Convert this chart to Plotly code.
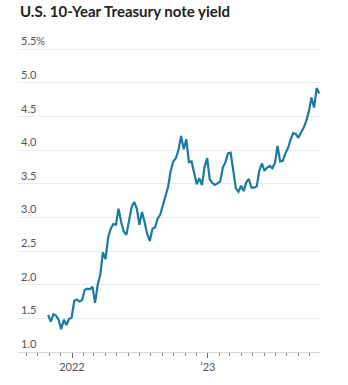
import plotly.graph_objects as go

dates = [
    "2021-10-29", "2021-11-05", "2021-11-12", "2021-11-19", "2021-11-26", "2021-12-03",
    "2021-12-10", "2021-12-17", "2021-12-24", "2021-12-31", "2022-01-07", "2022-01-14",
    "2022-01-21", "2022-01-28", "2022-02-04", "2022-02-11", "2022-02-18", "2022-02-25",
    "2022-03-04", "2022-03-11", "2022-03-18", "2022-03-25", "2022-04-01", "2022-04-08",
    "2022-04-15", "2022-04-22", "2022-04-29", "2022-05-06", "2022-05-13", "2022-05-20",
    "2022-05-27", "2022-06-03", "2022-06-10", "2022-06-17", "2022-06-24", "2022-07-01",
    "2022-07-08", "2022-07-15", "2022-07-22", "2022-07-29", "2022-08-05", "2022-08-12",
    "2022-08-19", "2022-08-26", "2022-09-02", "2022-09-09", "2022-09-16", "2022-09-23",
    "2022-09-30", "2022-10-07", "2022-10-14", "2022-10-21", "2022-10-28", "2022-11-04",
    "2022-11-11", "2022-11-18", "2022-11-25", "2022-12-02", "2022-12-09", "2022-12-16",
    "2022-12-23", "2022-12-30", "2023-01-06", "2023-01-13", "2023-01-20", "2023-01-27",
    "2023-02-03", "2023-02-10", "2023-02-17", "2023-02-24", "2023-03-03", "2023-03-10",
    "2023-03-17", "2023-03-24", "2023-03-31", "2023-04-07", "2023-04-14", "2023-04-21",
    "2023-04-28", "2023-05-05", "2023-05-12", "2023-05-19", "2023-05-26", "2023-06-02",
    "2023-06-09", "2023-06-16", "2023-06-23", "2023-06-30", "2023-07-07", "2023-07-14",
    "2023-07-21", "2023-07-28", "2023-08-04", "2023-08-11", "2023-08-18", "2023-08-25",
    "2023-09-01", "2023-09-08", "2023-09-15", "2023-09-22", "2023-09-29", "2023-10-06",
    "2023-10-13", "2023-10-20", "2023-10-27",
]
yields = [
    1.55, 1.45, 1.56, 1.54, 1.48, 1.34,
    1.48, 1.40, 1.49, 1.51, 1.76, 1.78,
    1.75, 1.77, 1.92, 1.94, 1.93, 1.97,
    1.73, 2.00, 2.15, 2.48, 2.38, 2.70,
    2.83, 2.90, 2.89, 3.13, 2.93, 2.79,
    2.74, 2.94, 3.15, 3.23, 3.13, 2.89,
    3.08, 2.93, 2.75, 2.65, 2.83, 2.85,
    2.98, 3.04, 3.19, 3.32, 3.45, 3.69,
    3.83, 3.88, 4.00, 4.21, 4.01, 4.16,
    3.82, 3.83, 3.68, 3.49, 3.58, 3.48,
    3.75, 3.88, 3.56, 3.51, 3.48, 3.51,
    3.53, 3.74, 3.82, 3.95, 3.96, 3.70,
    3.43, 3.38, 3.47, 3.39, 3.52, 3.57,
    3.44, 3.44, 3.46, 3.69, 3.80, 3.69,
    3.74, 3.76, 3.73, 3.81, 4.06, 3.83,
    3.84, 3.95, 4.03, 4.15, 4.25, 4.24,
    4.18, 4.26, 4.33, 4.43, 4.57, 4.78,
    4.63, 4.92, 4.84,
]

y_tickvals = [1.0, 1.5, 2.0, 2.5, 3.0, 3.5, 4.0, 4.5, 5.0, 5.5]
y_ticktext = ["1.0", "1.5", "2.0", "2.5", "3.0", "3.5", "4.0", "4.5", "5.0", "5.5%"]
x_tickvals = ["2022-01-01", "2023-01-01"]
x_ticktext = ["2022", "\u201923"]

fig = go.Figure()
fig.add_trace(go.Scatter(
    x=dates, y=yields, mode="lines",
    line=dict(color="#1b7aa0", width=2.2),
    hoverinfo="skip",
))

fig.update_layout(
    width=348, height=385,
    margin=dict(l=18, r=28, t=47, b=29),
    paper_bgcolor="white", plot_bgcolor="white",
    showlegend=False,
    font=dict(family="Lato, sans-serif", color="#555"),
    title=dict(
        text="<b>U.S. 10-Year Treasury note yield</b>",
        x=0, xref="paper", xanchor="left",
        y=1, yref="container", yanchor="top",
        pad=dict(t=6, l=2),
        font=dict(size=15, color="#222", family="Lato, sans-serif"),
    ),
    xaxis=dict(
        type="date",
        range=["2021-08-09", "2023-10-29"],
        tickvals=x_tickvals, ticktext=x_ticktext,
        ticks="outside", ticklen=5, tickwidth=1, tickcolor="#666",
        tickfont=dict(size=11, color="#555"),
        showgrid=False, showline=True, linecolor="#d8d8d8", linewidth=1,
        zeroline=False,
        minor=dict(dtick="M1", tick0="2021-08-01", ticks="outside",
                   ticklen=3, tickwidth=1, tickcolor="#888", showgrid=False),
    ),
    yaxis=dict(
        range=[1.0, 5.53],
        tickvals=y_tickvals, ticktext=y_ticktext,
        ticklabelposition="inside top",
        ticklabeloverflow="allow",
        tickfont=dict(size=11, color="#555"),
        showgrid=True, gridcolor="#ebebeb", gridwidth=1,
        zeroline=False, showline=False, ticks="",
    ),
)

fig.write_html("out.html")
